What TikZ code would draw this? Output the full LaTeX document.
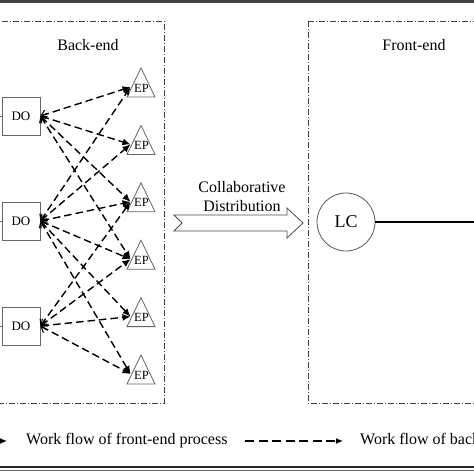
\documentclass[tikz,border=0pt]{standalone}
\usepackage{fontspec}
\setmainfont{Liberation Serif}
\usetikzlibrary{arrows.meta}
\begin{document}
\begin{tikzpicture}[x=1pt,y=-1pt,
  regionbox/.style={draw=black!75, line width=0.9pt, dash pattern=on 6pt off 2pt on 1pt off 2pt},
  dobox/.style={draw=black!60, line width=0.8pt, minimum size=38pt, inner sep=0pt, font=\fontsize{13}{14}\selectfont},
  eptri/.style={draw=black!60, line width=0.8pt, fill=white},
  eplabel/.style={inner sep=0pt, font=\fontsize{12.5}{14}\selectfont},
  flow/.style={line width=1.4pt, dash pattern=on 7.5pt off 4pt, {Straight Barb[length=5pt,width=9pt,line width=1.1pt]}-{Latex[length=8pt,width=7pt]}},
  legtext/.style={inner sep=0pt, anchor=west, font=\fontsize{16}{19}\selectfont},
  titletext/.style={inner sep=0pt, font=\fontsize{16}{19}\selectfont}
]
\useasboundingbox (0,0) rectangle (474,474);
\clip (0,0) rectangle (474,474);
\fill[white] (0,0) rectangle (474,474);
% frame lines
\fill[black!75] (0,0) rectangle (474,3);
\draw[black!85, line width=1.6pt] (0,467) -- (474,467);
\draw[black!60, line width=0.8pt] (0,470.5) -- (474,470.5);

% regions
\draw[regionbox] (-5,21) rectangle (164,403);
\draw[regionbox] (308,21) rectangle (490,403);
\node[titletext] (backlbl) at (88,45) {Back-end};
\node[titletext] (frontlbl) at (414,45) {Front-end};

% DO boxes
\node[dobox] (do1) at (21,116) {DO};
\node[dobox] (do2) at (21,221) {DO};
\node[dobox] (do3) at (21,326) {DO};
\foreach \i in {1,2,3}{
  \coordinate (stub\i) at (-2,{11+105*\i});
  \draw[black!60, line width=0.8pt] (stub\i) -- (do\i.west);
}

% EP triangles
\foreach \k in {1,...,6}{
  \pgfmathsetmacro{\b}{97+57.4*(\k-1)}
  \draw[eptri] (141,\b-29) -- (155,\b) -- (127,\b) -- cycle;
  \node[eplabel] (eplbl\k) at (141.5,\b-9) {EP};
  \coordinate (ep\k) at (130.5,\b-10);
}

% flows
\foreach \k in {1,2,3,4}{ \draw[flow] (do1.east) -- (ep\k); }
\foreach \k in {1,...,6}{ \draw[flow] (do2.east) -- (ep\k); }
\foreach \k in {3,4,5,6}{ \draw[flow] (do3.east) -- (ep\k); }

% collaborative distribution arrow
\draw[black!70, line width=0.8pt, fill=white] (174,215) -- (287,215) -- (287,208) -- (303,223) -- (287,238) -- (287,231) -- (174,231) -- (182,223) -- cycle;
\node[titletext, align=center] (collab) at (242,196.5) {Collaborative\\Distribution};

% LC
\node[draw=black!65, line width=0.8pt, circle, minimum size=58pt, inner sep=0pt, font=\fontsize{18}{20}\selectfont] (lc) at (346,222) {LC};
\coordinate (lcend) at (480,222);
\draw[black, line width=1.2pt] (lc.east) -- (lcend);

% legend
\coordinate (la1) at (-12,441);
\coordinate (la2) at (7,441);
\draw[line width=1.2pt, -{Latex[length=7pt,width=6pt]}] (la1) -- (la2);
\node[legtext] (leg1) at (26,441) {Work flow of front-end process};
\coordinate (lb1) at (245,441);
\coordinate (lb2) at (343,441);
\draw[line width=1.2pt, dash pattern=on 9pt off 4.5pt, -{Latex[length=7pt,width=6pt]}] (lb1) -- (lb2);
\node[legtext] (leg2) at (360,441) {Work flow of back-end process};
\end{tikzpicture}
\end{document}
